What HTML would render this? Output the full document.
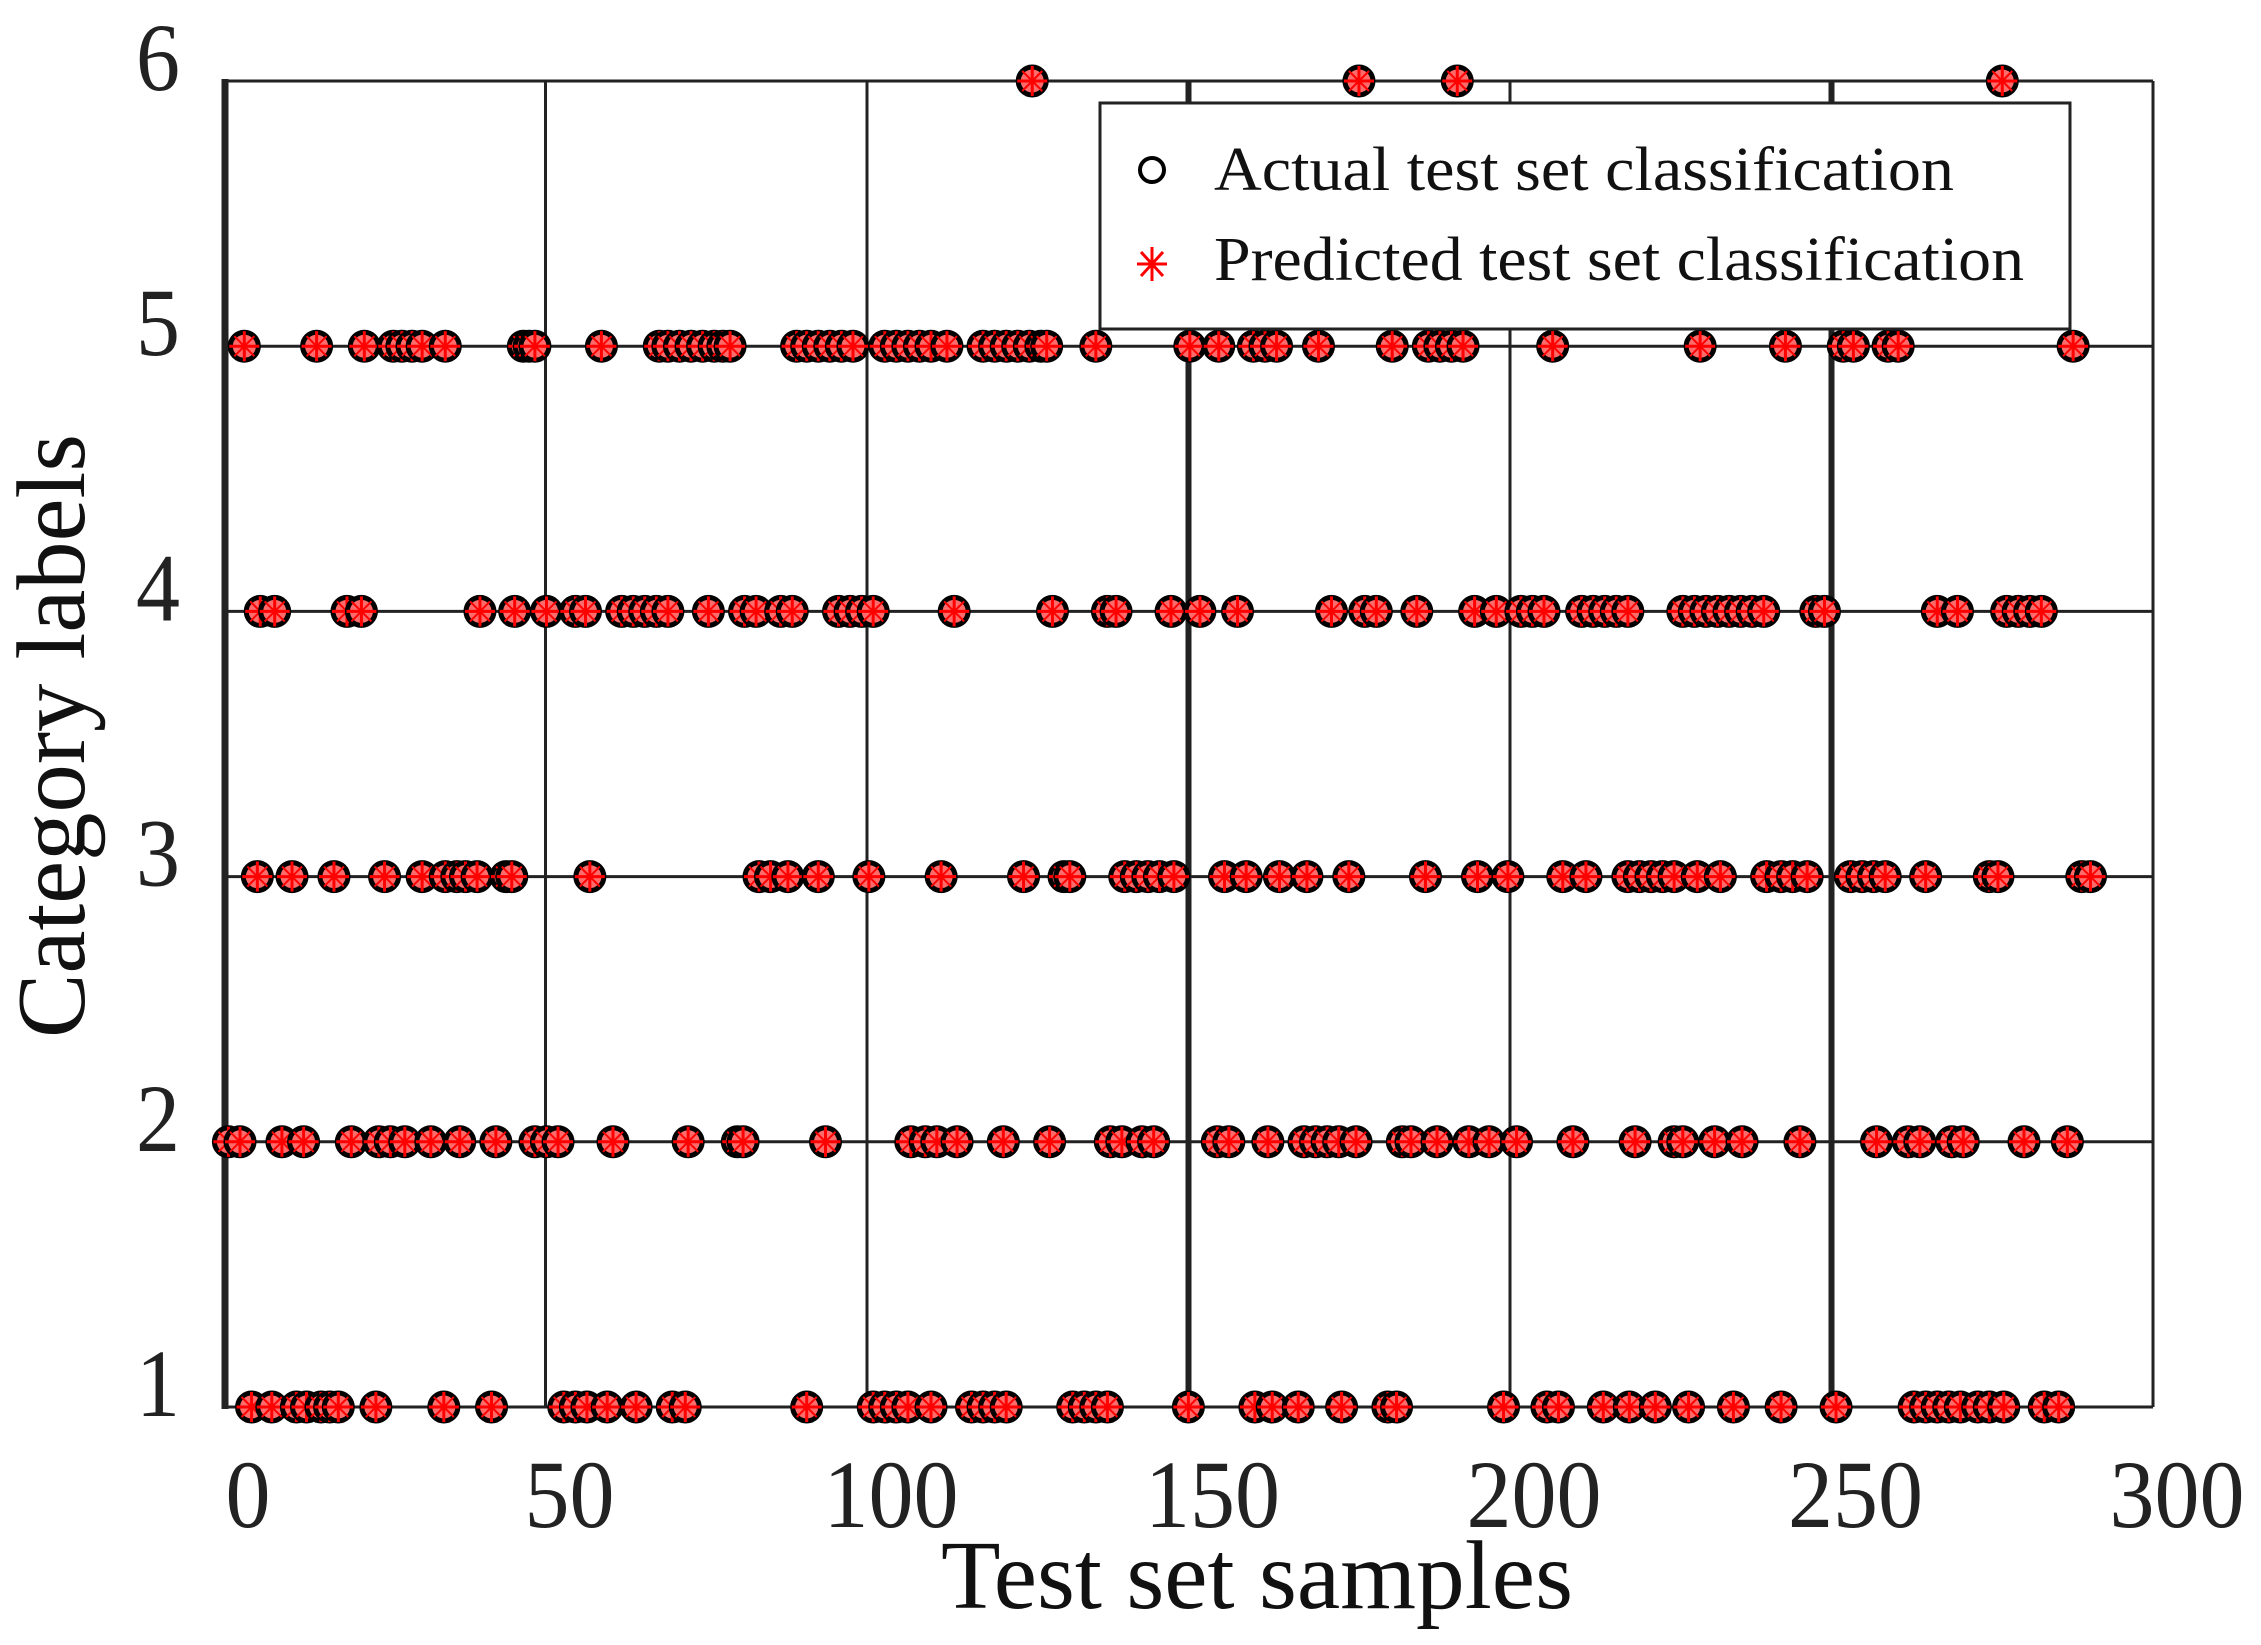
<!DOCTYPE html>
<html><head><meta charset="utf-8"><style>html,body{margin:0;padding:0;background:#fff}svg{display:block}</style></head>
<body>
<svg id="s" width="2261" height="1645" viewBox="0 0 2261 1645" xmlns="http://www.w3.org/2000/svg" font-family="Liberation Serif, serif">
<rect width="2261" height="1645" fill="#fff"/>
<g id="grid" stroke="#222" stroke-width="3" fill="none"></g>
<g id="pts"></g>
<g id="lab" fill="#222"></g>
<g>
<rect x="1100" y="103" width="970" height="226" fill="#fff" stroke="#222" stroke-width="3"/>
<circle cx="1152" cy="170" r="12" fill="none" stroke="#000" stroke-width="4"/>
<g stroke="#f00" stroke-width="3"><line x1="1152" y1="247" x2="1152" y2="281"/><line x1="1137" y1="264" x2="1167" y2="264"/><line x1="1141" y1="252" x2="1163" y2="276"/><line x1="1163" y1="252" x2="1141" y2="276"/></g>
<text x="1214" y="190" font-size="62" textLength="740" lengthAdjust="spacingAndGlyphs" fill="#111">Actual test set classification</text>
<text x="1214" y="280" font-size="62" textLength="810" lengthAdjust="spacingAndGlyphs" fill="#111">Predicted test set classification</text>
</g>
<text x="941" y="1608" font-size="98" textLength="632" lengthAdjust="spacingAndGlyphs" fill="#111">Test set samples</text>
<text transform="translate(84,1038) rotate(-90)" font-size="98" textLength="604" lengthAdjust="spacingAndGlyphs" fill="#111">Category labels</text>
</svg>
<script>
var S=1.4457, ns="http://www.w3.org/2000/svg";
function X(v){return 224+v*6.43} function Y(v){return 1407-(v-1)*265.2}
function el(p,t,a){var e=document.createElementNS(ns,t);for(var k in a)e.setAttribute(k,a[k]);p.appendChild(e);return e}
var g=document.getElementById('grid');
for(var i=1;i<=6;i++)el(g,'line',{x1:224,x2:X(300),y1:Y(i),y2:Y(i)});
for(var j=50;j<=300;j+=50)el(g,'line',{x1:X(j),x2:X(j),y1:Y(6),y2:Y(1),'stroke-width':(j==150||j==250)?6:3});
el(g,'line',{x1:225,x2:225,y1:Y(6)-2,y2:Y(1)+2,'stroke-width':7});
var L=document.getElementById('lab');
for(var i=1;i<=6;i++){var t=el(L,'text',{x:180,y:Y(i)+9,'font-size':96,'text-anchor':'end',textLength:44,lengthAdjust:'spacingAndGlyphs'});t.textContent=i;}
for(var j=0;j<=300;j+=50){var s=String(j);var t=el(L,'text',{x:X(j)+24,y:1527,'font-size':96,'text-anchor':'middle',textLength:s.length*45,lengthAdjust:'spacingAndGlyphs'});t.textContent=s;}
var rows={6:[714,940,1008,1385],
5:[169,219,252,272,278,285,292,308,362,366,370,416,456,462,470,478,486,494,500,505,551,558,566,574,582,590,612,620,628,636,644,655,680,688,696,704,712,720,724,758,823,843,867,875,883,912,963,988,996,1004,1012,1074,1176,1235,1275,1282,1306,1313,1434],
4:[180,190,240,250,332,356,378,398,405,430,438,446,454,462,490,515,523,540,548,580,588,596,604,660,728,766,772,810,830,856,921,944,952,980,1020,1035,1052,1060,1068,1094,1102,1110,1118,1126,1164,1172,1180,1188,1196,1204,1212,1220,1256,1262,1340,1354,1388,1396,1404,1412],
3:[178,202,231,266,292,308,316,322,330,350,354,408,525,533,545,566,601,651,708,736,740,778,786,794,802,812,847,862,885,904,933,986,1022,1043,1081,1097,1126,1134,1142,1150,1158,1174,1190,1222,1232,1240,1250,1280,1288,1296,1304,1332,1376,1382,1440,1446],
2:[158,166,195,210,243,262,270,280,298,318,343,370,378,386,424,476,510,514,571,630,640,648,662,694,726,768,776,790,798,842,850,877,902,910,918,926,938,970,976,994,1016,1030,1049,1088,1131,1158,1164,1186,1205,1245,1298,1320,1328,1350,1358,1400,1430],
1:[174,188,205,212,222,228,234,260,307,340,390,398,406,420,440,465,474,558,604,612,620,628,644,672,680,688,696,742,750,758,766,822,868,880,898,928,960,966,1040,1070,1078,1109,1127,1145,1168,1199,1232,1270,1324,1332,1340,1348,1356,1368,1376,1386,1414,1424]};
var P=document.getElementById('pts');
for(var r in rows){rows[r].forEach(function(px){var x=px*S,y=Y(+r);
el(P,'circle',{cx:x,cy:y,r:14,fill:'#ff6a6a',stroke:'#000','stroke-width':5});
el(P,'line',{x1:x,x2:x,y1:y-15,y2:y+15,stroke:'#f00','stroke-width':3});
el(P,'line',{x1:x-15,x2:x+15,y1:y,y2:y,stroke:'#f00','stroke-width':3});
el(P,'line',{x1:x-10,x2:x+10,y1:y-10,y2:y+10,stroke:'#f00','stroke-width':2});
el(P,'line',{x1:x+10,x2:x-10,y1:y-10,y2:y+10,stroke:'#f00','stroke-width':2});});}
</script>
</body></html>
